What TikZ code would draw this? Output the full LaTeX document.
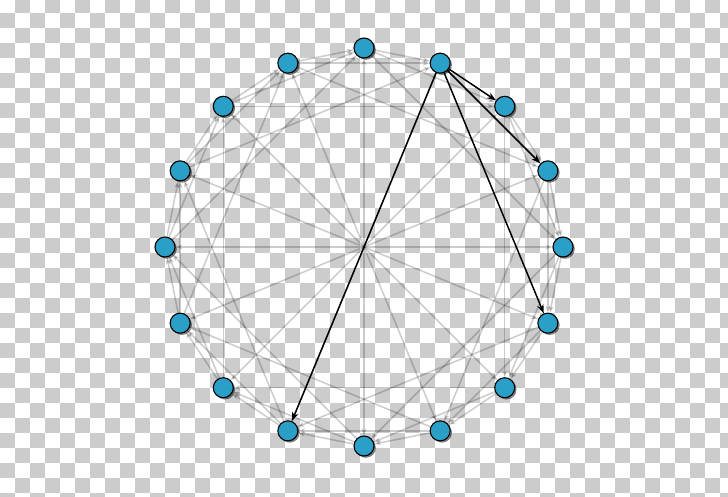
\documentclass[tikz,border=0pt]{standalone}
\usetikzlibrary{arrows.meta,shadows}
\definecolor{checkgray}{RGB}{204,204,204}
\definecolor{nodeblue}{RGB}{42,160,200}
\pgfdeclarelayer{bg}
\pgfdeclarelayer{edges}
\pgfsetlayers{bg,edges,main}
\tikzset{
  vert/.style={circle,draw=black,line width=1.1pt,fill=nodeblue,minimum size=20pt,inner sep=0pt,
    drop shadow={shadow xshift=1.8pt,shadow yshift=-1.8pt,opacity=0.5,fill=black}},
  grayedge/.style={draw=black,draw opacity=0.2,fill opacity=0.2,line width=1.5pt,-{Stealth[length=7pt,width=5pt]}},
  grayboth/.style={grayedge,{Stealth[length=7pt,width=5pt]}-{Stealth[length=7pt,width=5pt]}},
  blackedge/.style={draw=black,line width=1.5pt,-{Stealth[length=9pt,width=6.5pt]}}
}
\begin{document}
\begin{tikzpicture}[x=1pt,y=-1pt]
\useasboundingbox (0,0) rectangle (728,496);
\begin{pgfonlayer}{bg}
\begin{scope}
\clip (0,0) rectangle (728,496);
\fill[white] (0,0) rectangle (728,496);
\foreach \i in {0,...,48}{
  \foreach \j in {0,...,33}{
    \pgfmathtruncatemacro\s{mod(\i+\j,2)}
    \ifnum\s=1 \fill[checkgray] ({\i*15},{\j*15-2}) rectangle ++(15,15);\fi
  }
}
\end{scope}
\end{pgfonlayer}
\foreach \k in {0,...,15}{
  \node[vert] (n\k) at ({364+199*cos(90-22.5*\k)},{247-199*sin(90-22.5*\k)}) {};
}
\begin{pgfonlayer}{edges}
\foreach \i in {0,...,15}{
  \foreach \d in {1,2,4}{
    \pgfmathtruncatemacro\t{mod(\i+\d,16)}
    \ifnum\i=1\relax\else \draw[grayedge] (n\i) -- (n\t);\fi
  }
}
\foreach \i in {0,2,3,4,5,6,7}{
  \pgfmathtruncatemacro\t{\i+8}
  \draw[grayboth] (n\i) -- (n\t);
}
\draw[grayedge] (n9) -- (n1);
\draw[blackedge] (n1) -- (n2);
\draw[blackedge] (n1) -- (n3);
\draw[blackedge] (n1) -- (n5);
\draw[blackedge] (n1) -- (n9);
\end{pgfonlayer}
\end{tikzpicture}
\end{document}
